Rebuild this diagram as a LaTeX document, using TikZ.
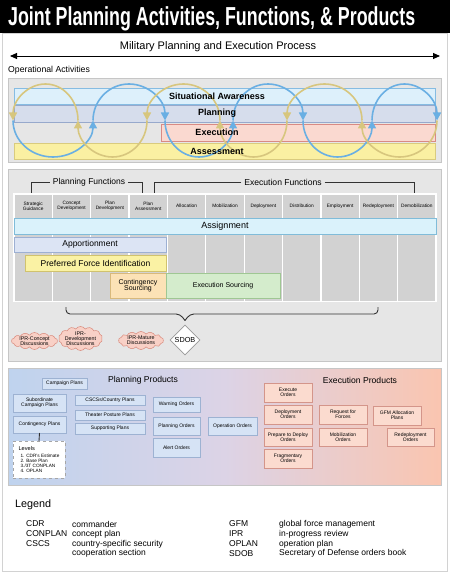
\documentclass[tikz,border=0pt]{standalone}
\usepackage{fontspec}
\setmainfont{Liberation Sans}
\usetikzlibrary{arrows.meta,shapes.geometric,shapes.symbols}
\definecolor{secfill}{HTML}{E6E6E6}
\definecolor{secdraw}{HTML}{C6C6C6}
\definecolor{safill}{HTML}{DDF0FB}
\definecolor{sadraw}{HTML}{86BCE2}
\definecolor{plfill}{HTML}{D6DDEC}
\definecolor{pldraw}{HTML}{97A9CC}
\definecolor{exfill}{HTML}{FAD9D0}
\definecolor{exdraw}{HTML}{D98A84}
\definecolor{asfill}{HTML}{FAF0A2}
\definecolor{asdraw}{HTML}{D9CB7E}
\definecolor{bluearc}{HTML}{6AAFE3}
\definecolor{yelarc}{HTML}{D7C67E}
\definecolor{colgray}{HTML}{D2D2D2}
\definecolor{agfill}{HTML}{DAF2FB}
\definecolor{agdraw}{HTML}{80BCD9}
\definecolor{apfill}{HTML}{DCE4F4}
\definecolor{apdraw}{HTML}{9DB0D3}
\definecolor{pffill}{HTML}{FAF2A4}
\definecolor{pfdraw}{HTML}{D0C26E}
\definecolor{csfill}{HTML}{FCE2B6}
\definecolor{csdraw}{HTML}{D8B97C}
\definecolor{esfill}{HTML}{D4ECCC}
\definecolor{esdraw}{HTML}{9FC793}
\definecolor{cloudfill}{HTML}{F8D0C6}
\definecolor{clouddraw}{HTML}{D8887A}
\definecolor{prodL}{HTML}{BFD3EE}
\definecolor{prodM}{HTML}{DCD3E6}
\definecolor{prodR}{HTML}{FAC5B0}
\definecolor{ppfill}{HTML}{D6E3F5}
\definecolor{ppdraw}{HTML}{9DB2D2}
\definecolor{epfill}{HTML}{FBDBCF}
\definecolor{epdraw}{HTML}{D4958A}
\definecolor{brk}{HTML}{333333}
\newcommand\bx[7]{\node[#6,minimum width={(#4-#2)*1pt},minimum height={(#5-#3)*1pt}] (#1) at ({(#2+#4)/2},{(#3+#5)/2}) {#7};}
\newcommand\fs[1]{\fontsize{#1}{#1}\selectfont}
\newcommand\lvf{\hspace*{2pt}}
\begin{document}
\begin{tikzpicture}[x=1pt,y=-1pt,
  base/.style={inner sep=0.5pt,outer sep=0pt,align=center},
  secbox/.style={base,fill=secfill,draw=secdraw,line width=0.8pt},
  band/.style={base,line width=0.6pt},
  bandtxt/.style={base,font=\fs{9}\bfseries},
  barc/.style={draw=bluearc,line width=1.6pt,-{Triangle[length=8pt,width=8pt]}},
  yarc/.style={draw=yelarc,line width=1.6pt,-{Triangle[length=8pt,width=8pt]}},
  brkline/.style={draw=brk,line width=0.9pt},
  hdr/.style={base,font=\fs{4.8}},
  fnbar/.style={base,line width=0.6pt,font=\fs{8.5}},
  cloudnode/.style={cloud,cloud puffs=14,cloud puff arc=110,cloud ignores aspect,fill=cloudfill,draw=clouddraw,line width=0.5pt,inner sep=0pt},
  cloudtxt/.style={font=\fs{5.3},align=center,inner sep=0pt},
  ppbox/.style={base,fill=ppfill,draw=ppdraw,line width=0.5pt,font=\fs{5}},
  epbox/.style={base,fill=epfill,draw=epdraw,line width=0.5pt,font=\fs{5}},
  legab/.style={anchor=west,inner sep=0pt,font=\fs{8.5}},
]
\useasboundingbox (0,0) rectangle (450,572);
\fill[white] (0,0) rectangle (450,572);
\draw[gray!35,line width=0.6pt] (2.5,33) rectangle (447.5,571.7);
% title bar
\fill[black] (0,0) rectangle (450,33);
\node[anchor=base west,inner sep=0pt,text=white] (title) at (8,26)
  {\resizebox{407pt}{\height}{\fs{26}\bfseries Joint Planning Activities, Functions, \& Products}};
% process arrow
\node[base,font=\fs{11}] (mpep) at (218,47) {Military Planning and Execution Process};
\coordinate (al) at (10,56);
\coordinate (ar) at (440,56);
\draw[line width=0.9pt,{Triangle[length=7pt,width=6pt]}-{Triangle[length=7pt,width=6pt]}] (al) -- (ar);
\node[anchor=west,inner sep=0pt,font=\fs{8.7}] (opact) at (8,70) {Operational Activities};
% operational activities box
\bx{opbox}{8}{78}{441}{162}{secbox}{}
\bx{saband}{14}{88}{435}{104}{band,fill=safill,draw=sadraw}{}
\bx{plband}{14}{105}{435}{122}{band,fill=plfill,draw=pldraw}{}
\bx{exband}{161}{124}{435}{141}{band,fill=exfill,draw=exdraw}{}
\bx{asband}{14}{143}{435}{159}{band,fill=asfill,draw=asdraw}{}
% blue strand (left to right)
\draw[barc] (13,120.5) arc[start angle=180,end angle=0,x radius=40,y radius=36.5];
\draw[barc] (93,120.5) arc[start angle=180,end angle=360,x radius=36,y radius=36.5];
\draw[barc] (165,120.5) arc[start angle=180,end angle=0,x radius=34,y radius=36.5];
\draw[barc] (233,120.5) arc[start angle=180,end angle=360,x radius=35,y radius=36.5];
\draw[barc] (303,120.5) arc[start angle=180,end angle=0,x radius=34.5,y radius=36.5];
\draw[barc] (372,120.5) arc[start angle=180,end angle=360,x radius=32.5,y radius=36.5];
% yellow strand (right to left)
\draw[yarc] (437,120.5) arc[start angle=0,end angle=180,x radius=37.5,y radius=36.5];
\draw[yarc] (362,120.5) arc[start angle=0,end angle=-180,x radius=37.5,y radius=36.5];
\draw[yarc] (287,120.5) arc[start angle=0,end angle=180,x radius=33.5,y radius=36.5];
\draw[yarc] (220,120.5) arc[start angle=0,end angle=-180,x radius=36.5,y radius=36.5];
\draw[yarc] (147,120.5) arc[start angle=0,end angle=180,x radius=34.5,y radius=36.5];
\draw[yarc] (78,120.5) arc[start angle=0,end angle=-180,x radius=32.5,y radius=36.5];
\node[bandtxt] (satxt) at (217,96) {Situational Awareness};
\node[bandtxt] (pltxt) at (217,113.5) {Planning};
\node[bandtxt] (extxt) at (217,132.5) {Execution};
\node[bandtxt] (astxt) at (217,151) {Assessment};
% functions box
\bx{fnbox}{8}{169}{441}{361}{secbox}{}
\node[base,font=\fs{8.5},inner sep=3pt] (pfun) at (89,182) {Planning Functions};
\draw[brkline] (pfun.west) -| (31,193);
\draw[brkline] (pfun.east) -| (142,193);
\node[base,font=\fs{8.6},inner sep=3pt] (efun) at (283,182) {Execution Functions};
\draw[brkline] (efun.west) -| (154,193);
\draw[brkline] (efun.east) -| (414,193);
\foreach \t [count=\i from 0] in {{Strategic\\Guidance},{Concept\\Development},{Plan\\Development},{Plan\\Assessment},{Allocation},{Mobilization},{Deployment},{Distribution},{Employment},{Redeployment},{Demobilization}}{
  \pgfmathsetmacro\xa{14+\i*38.3636}
  \draw[fill=colgray,draw=white,line width=1.2pt] (\xa,194) rectangle ++(38.3636,107.5);
  \node[hdr] (h\i) at (\xa+19.18,206) {\t};
}
\bx{assign}{14}{218}{436}{234}{fnbar,fill=agfill,draw=agdraw,font=\fs{9}}{Assignment}
\bx{apport}{14}{237}{166}{252}{fnbar,fill=apfill,draw=apdraw}{Apportionment}
\bx{pfi}{25}{255}{166}{271}{fnbar,fill=pffill,draw=pfdraw}{Preferred Force Identification}
\bx{contsrc}{110}{273.5}{166}{298}{fnbar,fill=csfill,draw=csdraw,font=\fs{7}}{Contingency\\[-0.5pt]Sourcing}
\bx{execsrc}{166}{273.5}{280}{298}{fnbar,fill=esfill,draw=esdraw,font=\fs{7}}{Execution Sourcing}
% brace
\coordinate (brL) at (66,307);
\coordinate (brR) at (378,307);
\coordinate (brT) at (185,320.5);
\draw[brkline,rounded corners=4pt] (brL) -- (66,314) -- (180,314) -- (brT);
\draw[brkline,rounded corners=4pt] (brT) -- (190,314) -- (378,314) -- (brR);
% clouds and SDOB
\node[cloudnode,minimum width=46pt,minimum height=17pt,label={[cloudtxt]center:{IPR-Concept\\Discussions}}] (ipr1) at (34.5,341) {};
\node[cloudnode,minimum width=44pt,minimum height=24pt,label={[cloudtxt]center:{IPR-\\Development\\Discussions}}] (ipr2) at (80.5,338.5) {};
\node[cloudnode,minimum width=45pt,minimum height=18pt,label={[cloudtxt]center:{IPR-Mature\\Discussions}}] (ipr3) at (141,340.5) {};
\node[diamond,draw=gray!80,fill=white,line width=0.7pt,minimum width=30pt,minimum height=30pt,inner sep=0pt,font=\fs{7.3}] (sdob) at (185,340) {SDOB};
% products box
\node[base,left color=prodL,right color=prodR,middle color=prodM,draw=secdraw,line width=0.6pt,minimum width=433pt,minimum height=117pt] (prodbox) at (224.5,426.5) {};
\node[base,font=\fs{8.6}] (pprod) at (143,380) {Planning Products};
\node[base,font=\fs{8.6}] (eprod) at (360,380) {Execution Products};
\bx{campaign}{42}{378}{87}{389}{ppbox}{Campaign Plans}
\bx{subcamp}{13}{394}{66}{412}{ppbox}{Subordinate\\Campaign Plans}
\bx{contplan}{13}{416}{66}{433}{ppbox}{Contingency Plans}
\node[draw=gray!70,dashed,fill=white,line width=0.5pt,minimum width=52pt,minimum height=37pt,inner sep=2pt,align=left,anchor=north,font=\fontsize{4.7}{5.1}\selectfont] (levels) at (39,441)
  {{\fontsize{5.6}{5.6}\selectfont Levels}\\[1.5pt]\lvf 1. CDR's Estimate\\\lvf 2. Base Plan\\\lvf 3./3T CONPLAN\\\lvf 4. OPLAN};
\draw[brkline] (contplan.south) -- (levels.north);
\bx{cscs}{75}{395}{145}{405}{ppbox}{CSCSs/Country Plans}
\bx{theater}{75}{410}{145}{420}{ppbox}{Theater Posture Plans}
\bx{support}{75}{423}{145}{434}{ppbox}{Supporting Plans}
\bx{warn}{153}{397}{200}{412}{ppbox}{Warning Orders}
\bx{planord}{153}{417}{200}{435}{ppbox}{Planning Orders}
\bx{alert}{153}{438}{200}{457}{ppbox}{Alert Orders}
\bx{opord}{208}{417}{257}{435}{ppbox}{Operation Orders}
\bx{execord}{264}{383}{312}{402}{epbox}{Execute\\Orders}
\bx{deplord}{264}{405}{312}{424}{epbox}{Deployment\\Orders}
\bx{ptdo}{264}{428}{312}{446}{epbox}{Prepare to Deploy\\Orders}
\bx{frag}{264}{449}{312}{468}{epbox}{Fragmentary\\Orders}
\bx{rff}{319}{405}{367}{424}{epbox}{Request for\\Forces}
\bx{mobord}{319}{428}{367}{446}{epbox}{Mobilization\\Orders}
\bx{gfm}{373}{406}{421}{425}{epbox}{GFM Allocation\\Plans}
\bx{redep}{387}{428}{434}{446}{epbox}{Redeployment\\Orders}
% legend
\node[anchor=west,inner sep=0pt,font=\fs{10.8}] (legend) at (15,505) {Legend};
\node[legab] (la1) at (26,524) {CDR};
\node[legab] (la2) at (26,534) {CONPLAN};
\node[legab] (la3) at (26,544) {CSCS};
\node[legab] (ld1) at (72,524) {commander};
\node[legab] (ld2) at (72,534) {concept plan};
\node[legab] (ld3) at (72,544) {country-specific security};
\node[legab] (ld4) at (72,553.5) {cooperation section};
\node[legab] (ra1) at (229,524) {GFM};
\node[legab] (ra2) at (229,534) {IPR};
\node[legab] (ra3) at (229,544) {OPLAN};
\node[legab] (ra4) at (229,553.5) {SDOB};
\node[legab] (rd1) at (279,524) {global force management};
\node[legab] (rd2) at (279,534) {in-progress review};
\node[legab] (rd3) at (279,544) {operation plan};
\node[legab] (rd4) at (279,553.5) {Secretary of Defense orders book};
\end{tikzpicture}
\end{document}
